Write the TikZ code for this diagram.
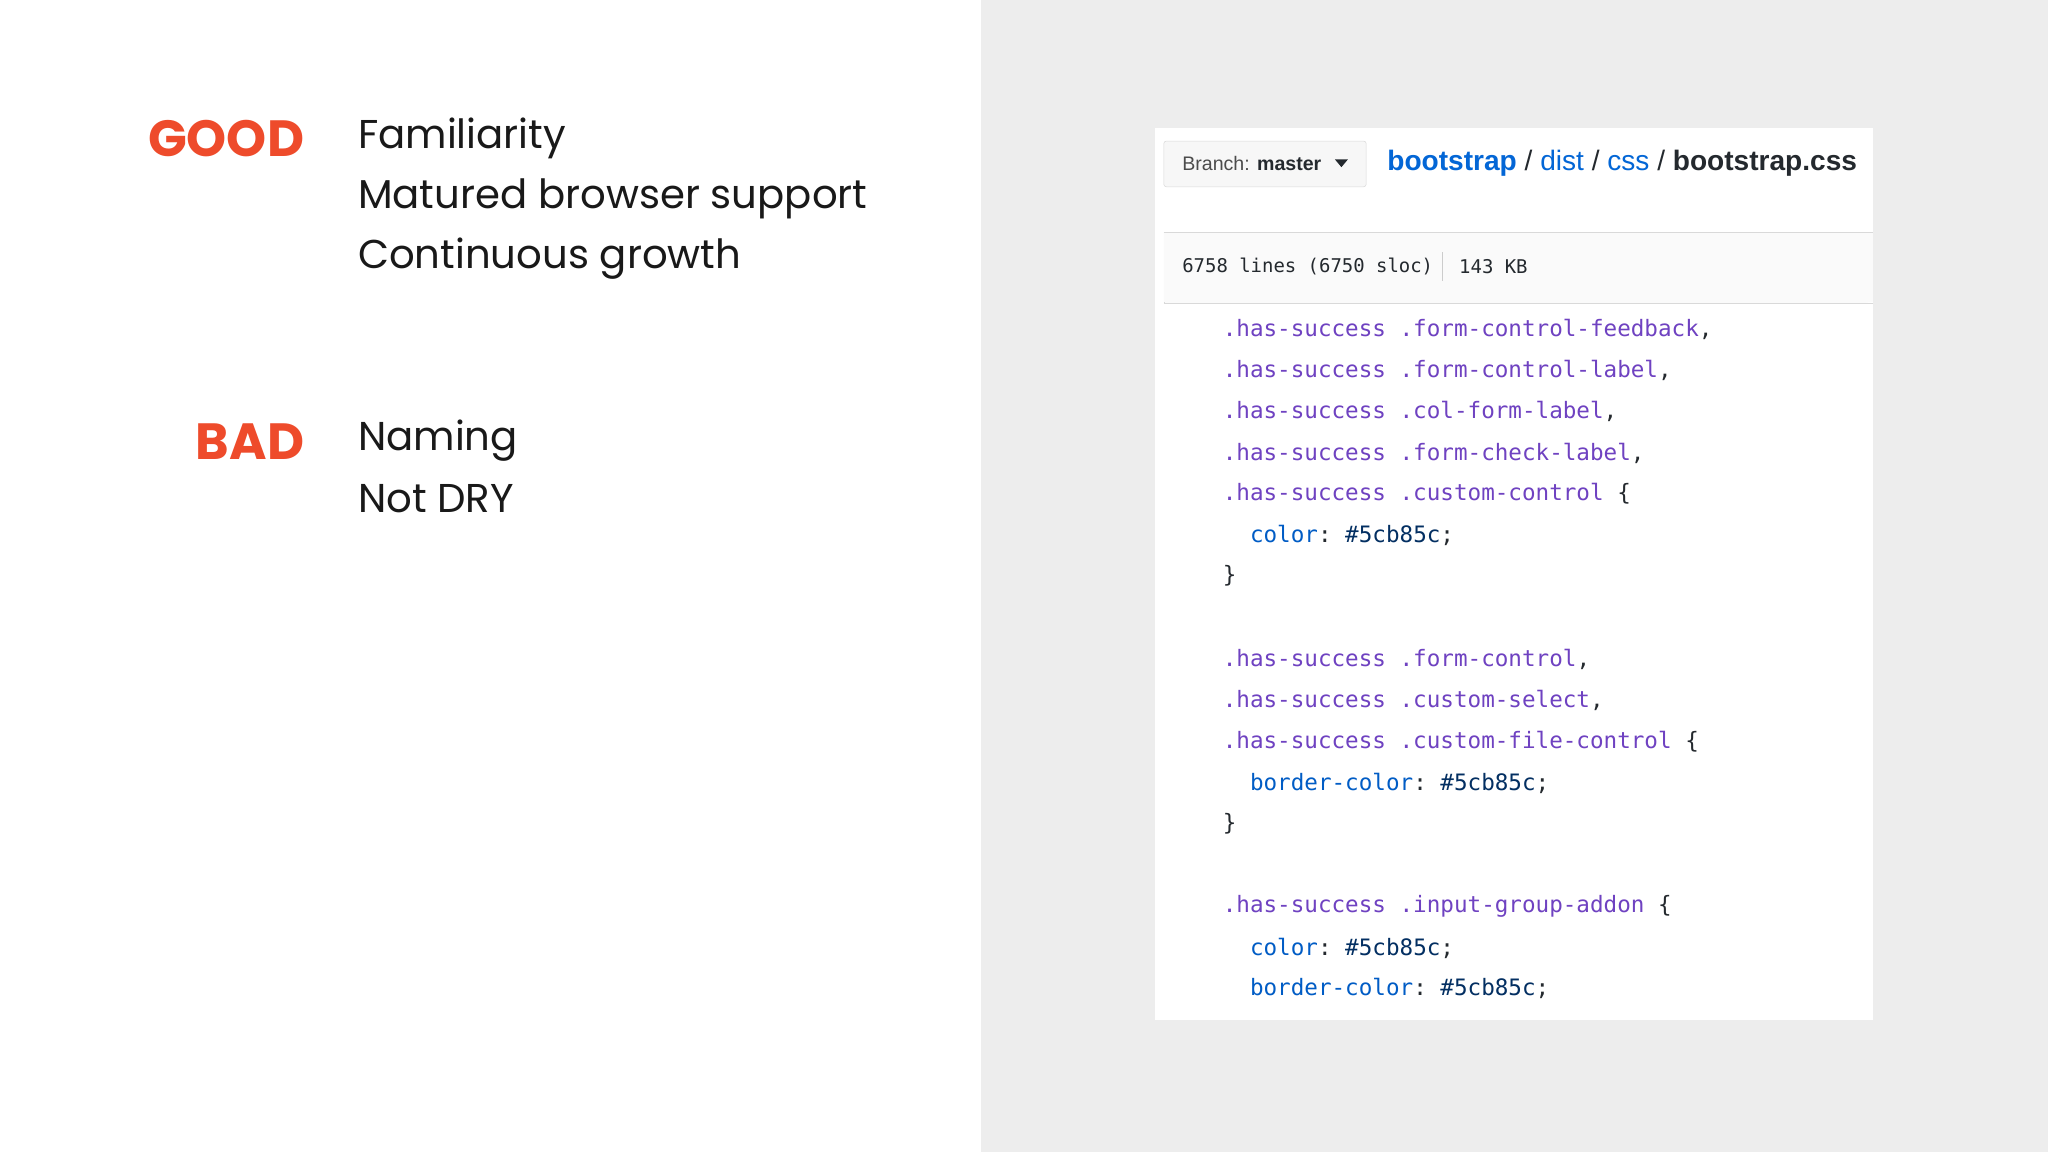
\documentclass[tikz,border=0pt]{standalone}
\usepackage{fontspec}
\setmainfont{Poppins}
\newfontfamily\ghfont{Liberation Sans}
\setmonofont{DejaVu Sans Mono}
\definecolor{accent}{HTML}{EE4B2B}
\definecolor{bgr}{HTML}{EDEDED}
\definecolor{sel}{HTML}{6F42C1}
\definecolor{prop}{HTML}{005CC5}
\definecolor{val}{HTML}{032F62}
\definecolor{link}{HTML}{0366D6}
\definecolor{txt}{HTML}{24292E}
\tikzset{
  head/.style={anchor=east,font=\fontsize{39}{39}\selectfont\bfseries,text=accent,inner sep=0},
  item/.style={anchor=west,font=\fontsize{30.8}{30.8}\selectfont,text=black!90,inner sep=0},
  code/.style={anchor=west,font=\ttfamily\fontsize{17.3}{17.3}\selectfont,text=txt,inner sep=0},
}
\newcommand{\CSl}[1]{\textcolor{sel}{#1}}
\newcommand{\CPr}[1]{\textcolor{prop}{#1}}
\newcommand{\CVl}[1]{\textcolor{val}{#1}}
\begin{document}
\begin{tikzpicture}[x=1pt,y=-1pt]
\useasboundingbox (0,0) rectangle (1568,882);
\fill[white] (0,0) rectangle (751,882);
\fill[bgr] (751,0) rectangle (1568,882);
% left
\node[head] (good) at (233,106) {GOOD};
\node[item] (f1) at (274,106) {Familiarity};
\node[item] (f2) at (274,152) {Matured browser support};
\node[item] (f3) at (274,198) {Continuous growth};
\node[head] (bad) at (233,338) {BAD};
\node[item] (b1) at (274,337) {Naming};
\node[item] (b2) at (274,382) {Not DRY};
% screenshot
\fill[white] (884,98) rectangle (1434,781);
\draw[black!15,fill=black!3,rounded corners=2] (891,108) rectangle (1046,143);
\node[anchor=west,font=\ghfont\fontsize{15}{15}\selectfont,text=black!70,inner sep=0] (br) at (905,125.5) {Branch: \textbf{\textcolor{txt}{master}}};
\fill[txt] (1022,122) -- (1032,122) -- (1027,128) -- cycle;
\node[anchor=west,font=\ghfont\fontsize{21.5}{21.5}\selectfont,inner sep=0] (path) at (1062,125) {\textcolor{link}{\textbf{bootstrap}} \textcolor{txt}{/} \textcolor{link}{dist} \textcolor{txt}{/} \textcolor{link}{css} \textcolor{txt}{/} \textbf{\textcolor{txt}{bootstrap.css}}};
\draw[black!15,fill=black!2] (891,178) -- (1434,178) (1434,232) -- (891,232) -- (891,178);
\fill[black!2] (891.5,178.5) rectangle (1434,231.5);
\node[anchor=west,font=\ttfamily\fontsize{14.5}{14.5}\selectfont,text=txt,inner sep=0] (info) at (905,204) {6758 lines (6750 sloc)};
\draw[black!20] (1104,193) -- (1104,215);
\node[anchor=west,font=\ttfamily\fontsize{14.5}{14.5}\selectfont,text=txt,inner sep=0] (kb) at (1117,204) {143 KB};
\node[code] at (936,252) {\CSl{.has-success .form-control-feedback},};
\node[code] at (936,284) {\CSl{.has-success .form-control-label},};
\node[code] at (936,315) {\CSl{.has-success .col-form-label},};
\node[code] at (936,347) {\CSl{.has-success .form-check-label},};
\node[code] at (936,378) {\CSl{.has-success .custom-control} \{};
\node[code] at (936,410) {\ \ \CPr{color}: \CVl{\#5cb85c};};
\node[code] at (936,441) {\}};
\node[code] at (936,505) {\CSl{.has-success .form-control},};
\node[code] at (936,536) {\CSl{.has-success .custom-select},};
\node[code] at (936,568) {\CSl{.has-success .custom-file-control} \{};
\node[code] at (936,600) {\ \ \CPr{border-color}: \CVl{\#5cb85c};};
\node[code] at (936,631) {\}};
\node[code] at (936,694) {\CSl{.has-success .input-group-addon} \{};
\node[code] at (936,726) {\ \ \CPr{color}: \CVl{\#5cb85c};};
\node[code] at (936,757) {\ \ \CPr{border-color}: \CVl{\#5cb85c};};
\end{tikzpicture}
\end{document}
